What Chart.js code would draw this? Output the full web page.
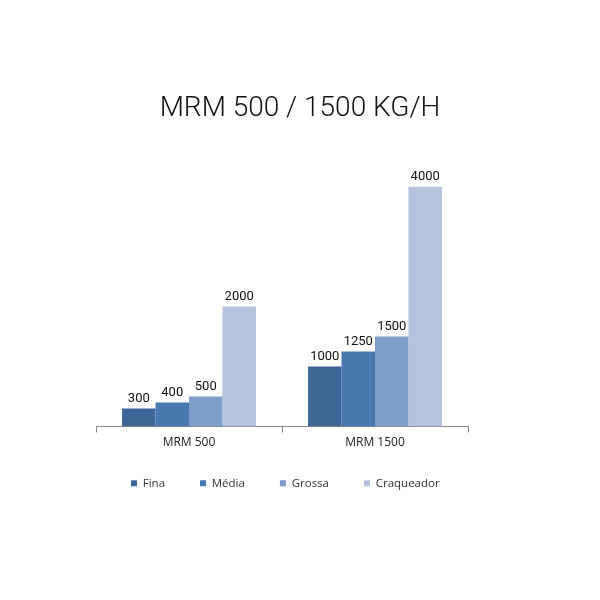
<!DOCTYPE html>
<html>
<head>
<meta charset="utf-8">
<script src="https://cdn.jsdelivr.net/npm/chart.js@4"></script>
<style>
  html, body { margin: 0; padding: 0; background: #fff; }
  #wrap { width: 600px; height: 600px; }
</style>
</head>
<body>
<div id="wrap"><canvas id="grafico"></canvas></div>
<script>
// datos del gráfico
const categorias = ['MRM 500', 'MRM 1500'];
const series = ['Fina', 'Média', 'Grossa', 'Craqueador'];
const valoresFina = [300, 1000];
const valoresMedia = [400, 1250];
const valoresGrossa = [500, 1500];
const valoresCraqueador = [2000, 4000];
const colores = ['#3d6596', '#4878b0', '#7f9dc9', '#b5c3de'];

// etiquetas de valor encima de cada barra
const etiquetasValor = {
  id: 'etiquetasValor',
  afterDatasetsDraw(chart) {
    const ctx = chart.ctx;
    ctx.save();
    ctx.font = '13px Roboto';
    ctx.fillStyle = '#111';
    ctx.textAlign = 'center';
    ctx.textBaseline = 'bottom';
    chart.data.datasets.forEach((ds, i) => {
      chart.getDatasetMeta(i).data.forEach((bar, j) => {
        ctx.fillText(ds.data[j], bar.x, bar.y - 3);
      });
    });
    ctx.restore();
  }
};

const valores = [valoresFina, valoresMedia, valoresGrossa, valoresCraqueador];

new Chart(document.getElementById('grafico'), {
  type: 'bar',
  data: {
    labels: categorias,
    datasets: series.map((nombre, i) => ({
      label: nombre,
      data: valores[i],
      backgroundColor: colores[i],
      categoryPercentage: 0.72,
      barPercentage: 1
    }))
  },
  options: {
    responsive: true,
    maintainAspectRatio: false,
    animation: false,
    layout: { padding: { left: 96, right: 96, top: 0, bottom: 101 } },
    plugins: {
      title: {
        display: true,
        text: 'MRM 500 / 1500 KG/H',
        color: '#111',
        font: { family: 'Roboto', size: 28, weight: '300' },
        padding: { top: 92, bottom: 61 }
      },
      legend: {
        position: 'bottom',
        align: 'start',
        labels: {
          boxWidth: 6,
          boxHeight: 6,
          padding: 35,
          color: '#333',
          font: { family: 'Open Sans', size: 11.5 }
        }
      },
      tooltip: { enabled: false }
    },
    scales: {
      y: { display: false, min: 0, max: 4000 },
      // eje vacío a la derecha para que el título quede centrado en la página
      y2: {
        position: 'right',
        display: true,
        ticks: { display: false },
        grid: { display: false },
        border: { display: false },
        afterFit(s) { s.width = 36; }
      },
      x: {
        border: { color: '#888' },
        grid: { drawOnChartArea: false, color: '#888', tickLength: 6 },
        // mirror evita el recorte de las etiquetas al achicar el eje
        ticks: { color: '#222', mirror: true, padding: -23, font: { family: 'Open Sans', size: 12 } },
        afterFit(s) { s.height = 16; }
      }
    }
  },
  plugins: [etiquetasValor]
});
</script>
</body>
</html>
